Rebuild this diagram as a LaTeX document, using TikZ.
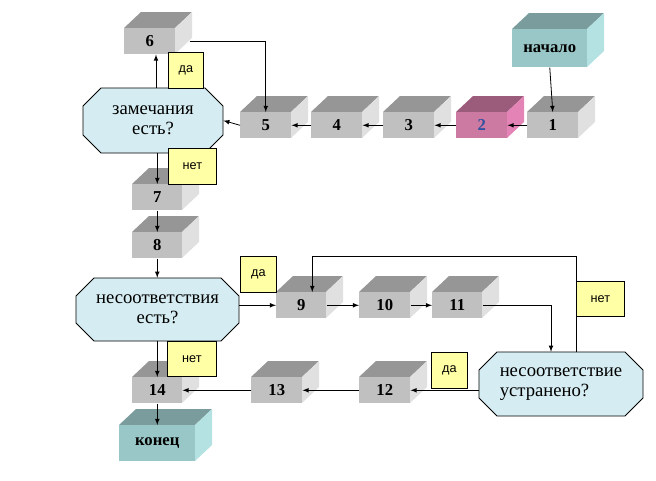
\documentclass[tikz,border=0pt]{standalone}
\usepackage{fontspec}
\setmainfont{Liberation Serif}
\newfontfamily\labelfont{Liberation Sans}
\usetikzlibrary{calc}

\definecolor{grayF} {RGB}{192,192,192}
\definecolor{grayT} {RGB}{150,150,150}
\definecolor{grayS} {RGB}{224,224,224}
\definecolor{tealF} {RGB}{153,198,198}
\definecolor{tealT} {RGB}{122,156,156}
\definecolor{tealS} {RGB}{180,225,225}
\definecolor{pinkF} {RGB}{204,122,162}
\definecolor{pinkT} {RGB}{155,92,124}
\definecolor{pinkS} {RGB}{228,132,182}
\definecolor{numblue}{RGB}{48,80,160}
\definecolor{labY}  {RGB}{255,255,166}
\definecolor{qblue} {RGB}{213,237,242}

% box with top and side faces: name, left, top, width, height, colour, text
\newcommand{\cubebox}[7]{%
  \fill[#6T] (#2,#3) -- ++(17,-16) -- ++(#4,0) -- ++(-17,16) -- cycle;
  \fill[#6S] (#2+#4,#3) -- ++(17,-16) -- ++(0,#5) -- ++(-17,16) -- cycle;
  \node[cubefront,fill=#6F,minimum width=#4*0.75pt,minimum height=#5*0.75pt] (#1) at (#2,#3) {#7};
}

% question box with cut corners: name, centre x, centre y, width, height, align, text
\newcommand{\questbox}[7]{%
  \draw[octo] (#2-#4/2+18,#3-#5/2) -- (#2+#4/2-18,#3-#5/2) -- (#2+#4/2,#3-#5/2+18)
    -- (#2+#4/2,#3+#5/2-18) -- (#2+#4/2-18,#3+#5/2) -- (#2-#4/2+18,#3+#5/2)
    -- (#2-#4/2,#3+#5/2-18) -- (#2-#4/2,#3-#5/2+18) -- cycle;
  \node[questtext,align=#6,minimum width=#4*0.75pt,minimum height=#5*0.75pt] (#1) at (#2,#3) {#7};
}

\tikzset{
  cubefront/.style={rectangle,anchor=north west,inner sep=0pt,font=\fontsize{12.5}{14}\selectfont\bfseries},
  octo/.style={fill=qblue,line width=0.6pt},
  questtext/.style={rectangle,inner sep=0pt,font=\fontsize{14}{15}\selectfont},
  lab/.style={rectangle,draw,fill=labY,line width=0.6pt,inner sep=0pt,anchor=north west,
    font=\labelfont\fontsize{9.5}{11}\selectfont},
  arr/.style={arrows={-latex},line width=0.6pt},
}

\begin{document}
\begin{tikzpicture}[x=0.75pt,y=-0.75pt]

    \useasboundingbox (0,0) rectangle (656,480);

    \cubebox{start}{512}{29}{75}{38}{teal}{начало}
    \cubebox{1}{527}{112}{51}{26}{gray}{1}
    \cubebox{2}{456}{112}{51}{26}{pink}{\textcolor{numblue}{2}}
    \cubebox{3}{383}{112}{51}{26}{gray}{3}
    \cubebox{4}{311}{112}{51}{26}{gray}{4}
    \cubebox{5}{240}{112}{51}{26}{gray}{5}
    \cubebox{6}{124}{28}{51}{26}{gray}{6}
    \cubebox{7}{132}{184}{50}{26}{gray}{7}
    \cubebox{8}{132}{232}{50}{26}{gray}{8}
    \cubebox{9}{276}{292}{50}{26}{gray}{9}
    \cubebox{10}{359}{292}{51}{26}{gray}{10}
    \cubebox{11}{432}{292}{50}{26}{gray}{11}
    \cubebox{12}{359}{377}{51}{26}{gray}{12}
    \cubebox{13}{251}{377}{51}{26}{gray}{13}
    \cubebox{14}{132}{377}{50}{26}{gray}{14}
    \cubebox{end}{119}{425}{76}{36}{teal}{конец}

    \questbox{q1}{153}{120.5}{140}{65}{center}{замечания\\есть?}
    \questbox{q2}{157.5}{309.5}{163}{63}{center}{несоответствия\\есть?}
    \questbox{q3}{561}{384}{164}{64}{left}{несоответствие\\устранено?}

    \draw[arr] (start.south) -- (1.north);
    \draw[arr] (1.west) -- (2.east);
    \draw[arr] (2.west) -- (3.east);
    \draw[arr] (3.west) -- (4.east);
    \draw[arr] (4.west) -- (5.east);
    \draw[arr] (5.west) -- (q1.east);
    \draw[arr] ($(6.east)+(14,0)$) -| (5.north);
    \draw[arr] ($(q1.north)+(3,0)$) -- ($(q1.north |- 6.south)+(3,0)$);
    \draw[arr] (7.north |- q1.south) -- (7.north);
    \draw[arr] (7.south) -- (8.north);
    \draw[arr] (8.south) -- (8.south |- q2.north);
    \draw[arr] (9.west -| q2.east) -- (9.west);
    \draw[arr] (9.east) -- (10.west);
    \draw[arr] (10.east) -- (11.west);
    \draw[arr] (11.east) -| ($(q3.north)+(-10,0)$);
    \draw[arr] ($(q3.north)+(15,0)$) |- ($(9.north)+(11,-36)$) -- ($(9.north)+(11,0)$);
    \draw[arr] (12.east -| q3.west) -- (12.east);
    \draw[arr] (12.west) -- (13.east);
    \draw[arr] (13.west) -- (14.east);
    \draw[arr] (14.north |- q2.south) -- (14.north);
    \draw[arr] (14.south) -- (end.north);

    \node[lab,minimum width=35*0.75pt,minimum height=36*0.75pt] (da1) at (168,52) {да};
    \node[lab,minimum width=48*0.75pt,minimum height=36*0.75pt] (net1) at (168,148) {нет};
    \node[lab,minimum width=36*0.75pt,minimum height=36*0.75pt] (da2) at (240,256) {да};
    \node[lab,minimum width=49*0.75pt,minimum height=35*0.75pt] (net2) at (167,341) {нет};
    \node[lab,minimum width=48*0.75pt,minimum height=35*0.75pt] (net3) at (576,281) {нет};
    \node[lab,minimum width=36*0.75pt,minimum height=36*0.75pt] (da3) at (431,352) {да};

  \end{tikzpicture}
\end{document}
